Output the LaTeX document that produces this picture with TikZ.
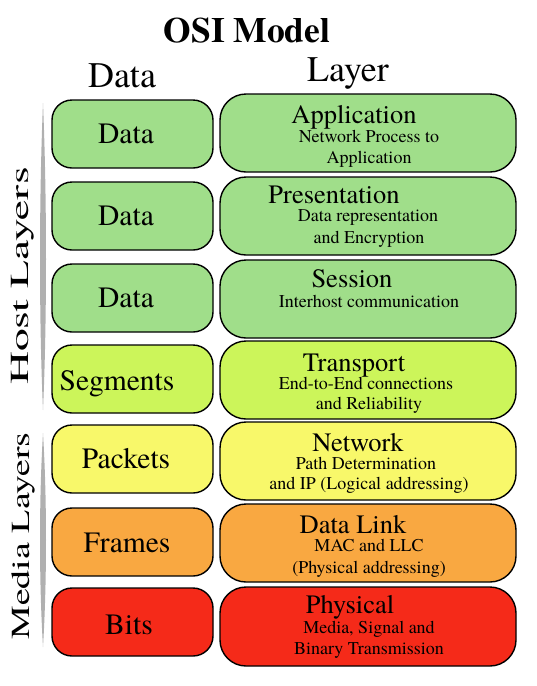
\documentclass[tikz,border=0pt]{standalone}
\usepackage{fontspec}
\setmainfont{texgyretermes}[Extension=.otf, UprightFont=*-regular, BoldFont=*-bold, ItalicFont=*-italic, BoldItalicFont=*-bolditalic]
\definecolor{cgreen}{HTML}{A0DE8A}
\definecolor{clime}{HTML}{CCF55A}
\definecolor{cyellow}{HTML}{F8F86A}
\definecolor{corange}{HTML}{F9A841}
\definecolor{cred}{HTML}{F52A19}
\definecolor{cline}{HTML}{B0B0B0}
\begin{document}
\begin{tikzpicture}[x=1pt,y=-1pt,
  lbox/.style={draw, line width=1.4pt, rounded corners=20pt, minimum width=161pt, minimum height=68pt, inner sep=0pt},
  rbox/.style={draw, line width=1.4pt, rounded corners=26pt, minimum width=296pt, minimum height=78pt, inner sep=0pt},
  ltext/.style={anchor=base, inner sep=0pt, font=\rmfamily\fontsize{29.5}{29.5}\selectfont},
  rtitle/.style={anchor=base, inner sep=0pt, font=\rmfamily\fontsize{26.5}{26.5}\selectfont},
  rsub/.style={anchor=base, inner sep=0pt, font=\rmfamily\fontsize{18}{18}\selectfont},
  head/.style={anchor=base, inner sep=0pt, font=\rmfamily\fontsize{36}{36}\selectfont},
  side/.style={anchor=base, inner sep=0pt, rotate=90, font=\rmfamily\fontsize{26}{26}\selectfont}]
\useasboundingbox (0,0) rectangle (537,686);

% title and headers
\node[head, font=\rmfamily\fontsize{35.5}{35.5}\selectfont\bfseries] (title) at (247,42) {OSI Model};
\node[head] (hdata) at (122,87) {Data};
\node[head] (hlayer) at (348,81) {Layer};

% side lines
\fill[cline] (43,103) .. controls (47,200) and (47,320) .. (43,410) .. controls (39,320) and (39,200) .. (43,103);
\fill[cline] (43,433) .. controls (47,500) and (47,580) .. (43,647) .. controls (39,580) and (39,500) .. (43,433);
\node[side] (host) at (28,276) {\scalebox{1.75}[1]{Host Layers}};
\node[side] (media) at (30,536) {\scalebox{1.46}[1]{Media Layers}};

% left boxes
\node[lbox, fill=cgreen]  (d1) at (132.5,134) {};
\node[lbox, fill=cgreen]  (d2) at (132.5,216) {};
\node[lbox, fill=cgreen]  (d3) at (132.5,298) {};
\node[lbox, fill=clime]   (d4) at (132.5,379) {};
\node[lbox, fill=cyellow] (d5) at (132.5,459) {};
\node[lbox, fill=corange] (d6) at (132.5,542) {};
\node[lbox, fill=cred]    (d7) at (132.5,622) {};
\node[ltext] (t1) at (126,143) {Data};
\node[ltext] (t2) at (126,225) {Data};
\node[ltext] (t3) at (126,307) {Data};
\node[ltext] (t4) at (117,390) {Segments};
\node[ltext] (t5) at (126,468) {Packets};
\node[ltext] (t6) at (127,552) {Frames};
\node[ltext] (t7) at (129,634) {Bits};

% right boxes
\node[rbox, fill=cgreen]  (l7) at (368,133) {};
\node[rbox, fill=cgreen]  (l6) at (368,216) {};
\node[rbox, fill=cgreen]  (l5) at (368,299) {};
\node[rbox, fill=clime]   (l4) at (368,380) {};
\node[rbox, fill=cyellow] (l3) at (368,461) {};
\node[rbox, fill=corange] (l2) at (368,543) {};
\node[rbox, fill=cred, minimum height=79pt] (l1) at (368,626.5) {};

\node[rtitle] (a0) at (354,123) {Application};
\node[rsub]   (a1) at (369,142) {Network Process to};
\node[rsub]   (a2) at (369,163) {Application};

\node[rtitle] (p0) at (334,203) {Presentation};
\node[rsub]   (p1) at (368,221) {Data representation};
\node[rsub]   (p2) at (369,243) {and Encryption};

\node[rtitle] (s0) at (352,287) {Session};
\node[rsub]   (s1) at (369,307) {Interhost communication};

\node[rtitle] (tr0) at (354,371) {Transport};
\node[rsub]   (tr1) at (366,389) {End-to-End connections};
\node[rsub]   (tr2) at (369,409) {and Reliability};

\node[rtitle] (n0) at (358,451) {Network};
\node[rsub]   (n1) at (366,469) {Path Determination};
\node[rsub]   (n2) at (369,489) {and IP (Logical addressing)};

\node[rtitle] (dl0) at (353,533) {Data Link};
\node[rsub]   (dl1) at (369,551) {MAC and LLC};
\node[rsub]   (dl2) at (369,573) {(Physical addressing)};

\node[rtitle] (ph0) at (350,613) {Physical};
\node[rsub]   (ph1) at (369,633) {Media, Signal and};
\node[rsub]   (ph2) at (369,654) {Binary Transmission};
\end{tikzpicture}
\end{document}
